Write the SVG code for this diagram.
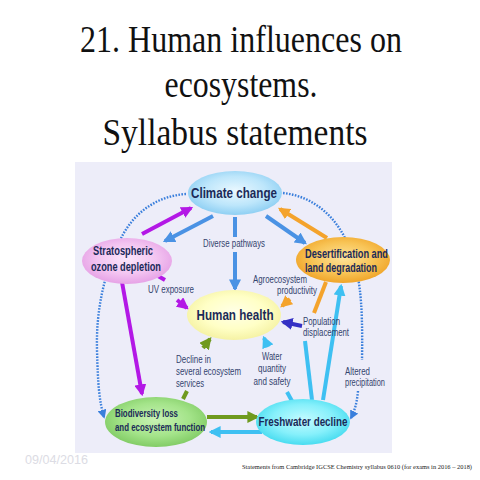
<svg xmlns="http://www.w3.org/2000/svg" width="480" height="480" viewBox="0 0 480 480">
<defs>
<style>
.title{font-family:"Liberation Serif","Times New Roman",serif;font-size:37px;fill:#111;text-anchor:middle}
.nl{font-family:"Liberation Sans",Arial,sans-serif;font-weight:bold;fill:#1b2a58}
.el{font-family:"Liberation Sans",Arial,sans-serif;font-size:10px;fill:#34446e}
.ar{fill:none;stroke-width:4;stroke-linecap:butt}
.dot{fill:none;stroke:#3a7fdc;stroke-width:2.4;stroke-dasharray:1.6 1.4}
</style>
<marker id="mBlue" viewBox="0 0 10 10" refX="8" refY="5" markerWidth="12" markerHeight="12" markerUnits="userSpaceOnUse" orient="auto"><path d="M0,0 L10,5 L0,10 z" fill="#4a92e4"/></marker>
<marker id="mMag" viewBox="0 0 10 10" refX="8" refY="5" markerWidth="12" markerHeight="12" markerUnits="userSpaceOnUse" orient="auto"><path d="M0,0 L10,5 L0,10 z" fill="#b318e6"/></marker>
<marker id="mOr" viewBox="0 0 10 10" refX="8" refY="5" markerWidth="12" markerHeight="12" markerUnits="userSpaceOnUse" orient="auto"><path d="M0,0 L10,5 L0,10 z" fill="#f4a32c"/></marker>
<marker id="mCy" viewBox="0 0 10 10" refX="8" refY="5" markerWidth="12" markerHeight="12" markerUnits="userSpaceOnUse" orient="auto"><path d="M0,0 L10,5 L0,10 z" fill="#3ec0f2"/></marker>
<marker id="mOl" viewBox="0 0 10 10" refX="8" refY="5" markerWidth="12" markerHeight="12" markerUnits="userSpaceOnUse" orient="auto"><path d="M0,0 L10,5 L0,10 z" fill="#6f9a1e"/></marker>
<marker id="mInd" viewBox="0 0 10 10" refX="8" refY="5" markerWidth="12" markerHeight="12" markerUnits="userSpaceOnUse" orient="auto"><path d="M0,0 L10,5 L0,10 z" fill="#3430c4"/></marker>
<marker id="mDot" viewBox="0 0 10 10" refX="8" refY="5" markerWidth="9" markerHeight="9" markerUnits="userSpaceOnUse" orient="auto"><path d="M0,0 L10,5 L0,10 z" fill="#3a7fdc"/></marker>
<radialGradient id="gCl" cx="50%" cy="45%" r="55%"><stop offset="0" stop-color="#eaf8ff"/><stop offset="0.6" stop-color="#bde6fb"/><stop offset="1" stop-color="#8ecff3"/></radialGradient>
<radialGradient id="gOz" cx="50%" cy="45%" r="55%"><stop offset="0" stop-color="#fbe6fb"/><stop offset="0.6" stop-color="#f3c4f1"/><stop offset="1" stop-color="#e6a2e6"/></radialGradient>
<radialGradient id="gDe" cx="50%" cy="45%" r="55%"><stop offset="0" stop-color="#fde39a"/><stop offset="0.6" stop-color="#f8c456"/><stop offset="1" stop-color="#f0a52a"/></radialGradient>
<radialGradient id="gHu" cx="50%" cy="45%" r="55%"><stop offset="0" stop-color="#ffffe8"/><stop offset="0.6" stop-color="#ffffc6"/><stop offset="1" stop-color="#f5f2a4"/></radialGradient>
<radialGradient id="gBi" cx="50%" cy="45%" r="55%"><stop offset="0" stop-color="#c8f2b4"/><stop offset="0.6" stop-color="#a4e48a"/><stop offset="1" stop-color="#82cc66"/></radialGradient>
<radialGradient id="gFr" cx="50%" cy="45%" r="55%"><stop offset="0" stop-color="#c4fbff"/><stop offset="0.6" stop-color="#86f0fb"/><stop offset="1" stop-color="#48dcf0"/></radialGradient>
</defs>
<rect width="480" height="480" fill="#ffffff"/>
<text class="title" x="241" y="52" textLength="322" lengthAdjust="spacingAndGlyphs">21. Human influences on</text>
<text class="title" x="241" y="97" textLength="153" lengthAdjust="spacingAndGlyphs">ecosystems.</text>
<text class="title" x="235" y="145" textLength="265" lengthAdjust="spacingAndGlyphs">Syllabus statements</text>
<rect id="panel" x="75" y="162" width="317" height="291" fill="#ededf9"/>
<g id="connectors">
<path class="dot" d="M186,194 C155,196 130,215 118,245 C104,275 96,310 97,350 C98,385 99,400 104,417" marker-end="url(#mDot)"/>
<path class="dot" d="M283,193 C312,196 334,215 346,240 C360,268 363,300 362,360"/>
<path class="dot" d="M358,391 C357,402 355,410 351,418" marker-end="url(#mDot)"/>
<line class="ar" stroke="#4a92e4" x1="213" y1="216" x2="165" y2="241" marker-end="url(#mBlue)"/>
<line class="ar" stroke="#b318e6" x1="142" y1="234" x2="191" y2="208" marker-end="url(#mMag)"/>
<line class="ar" stroke="#4a92e4" x1="235" y1="217" x2="235" y2="237"/>
<line class="ar" stroke="#4a92e4" x1="235" y1="252" x2="235" y2="289" marker-end="url(#mBlue)"/>
<line class="ar" stroke="#4a92e4" x1="266" y1="216" x2="305" y2="243" marker-end="url(#mBlue)"/>
<line class="ar" stroke="#f4a32c" x1="327" y1="238" x2="280" y2="209" marker-end="url(#mOr)"/>
<line class="ar" stroke="#b318e6" x1="122" y1="282" x2="142" y2="394" marker-end="url(#mMag)"/>
<line class="ar" stroke="#b318e6" x1="158" y1="276" x2="165" y2="280"/>
<line class="ar" stroke="#b318e6" x1="177" y1="300" x2="187" y2="308" marker-end="url(#mMag)"/>
<line class="ar" stroke="#f4a32c" x1="290" y1="299" x2="282" y2="306" marker-end="url(#mOr)"/>
<line class="ar" stroke="#f4a32c" x1="326" y1="282" x2="314" y2="313"/>
<line class="ar" stroke="#3430c4" x1="302" y1="326" x2="283" y2="322" marker-end="url(#mInd)"/>
<line class="ar" stroke="#3ec0f2" x1="323" y1="400" x2="341" y2="286" marker-end="url(#mCy)"/>
<line class="ar" stroke="#3ec0f2" x1="312" y1="400" x2="305" y2="341"/>
<line class="ar" stroke="#3ec0f2" x1="287" y1="392" x2="292" y2="401"/>
<line class="ar" stroke="#3ec0f2" x1="268" y1="347" x2="264" y2="338" marker-end="url(#mCy)"/>
<line class="ar" stroke="#6f9a1e" x1="183" y1="399" x2="187" y2="391"/>
<line class="ar" stroke="#6f9a1e" x1="203" y1="348" x2="210" y2="339" marker-end="url(#mOl)"/>
<line class="ar" stroke="#6f9a1e" x1="207" y1="417" x2="257" y2="417" marker-end="url(#mOl)"/>
<line class="ar" stroke="#3ec0f2" x1="262" y1="432" x2="211" y2="432" marker-end="url(#mCy)"/>
<text class="el" x="234" y="247" text-anchor="middle" textLength="62" lengthAdjust="spacingAndGlyphs">Diverse pathways</text>
<text class="el" x="148" y="293" textLength="46" lengthAdjust="spacingAndGlyphs">UV exposure</text>
<text class="el" x="253" y="283" textLength="54" lengthAdjust="spacingAndGlyphs">Agroecosystem</text>
<text class="el" x="277" y="294" textLength="40" lengthAdjust="spacingAndGlyphs">productivity</text>
<text class="el" x="303" y="325" textLength="37" lengthAdjust="spacingAndGlyphs">Population</text>
<text class="el" x="303" y="336" textLength="46" lengthAdjust="spacingAndGlyphs">displacement</text>
<text class="el" x="272" y="360" text-anchor="middle" textLength="20" lengthAdjust="spacingAndGlyphs">Water</text>
<text class="el" x="272" y="372" text-anchor="middle" textLength="28" lengthAdjust="spacingAndGlyphs">quantity</text>
<text class="el" x="272" y="385" text-anchor="middle" textLength="37" lengthAdjust="spacingAndGlyphs">and safety</text>
<text class="el" x="176" y="363" textLength="35" lengthAdjust="spacingAndGlyphs">Decline in</text>
<text class="el" x="176" y="375" textLength="65" lengthAdjust="spacingAndGlyphs">several ecosystem</text>
<text class="el" x="176" y="387" textLength="28" lengthAdjust="spacingAndGlyphs">services</text>
<text class="el" x="345" y="375" textLength="25" lengthAdjust="spacingAndGlyphs">Altered</text>
<text class="el" x="345" y="386" textLength="40" lengthAdjust="spacingAndGlyphs">precipitation</text>
</g>
<g id="climate">
<ellipse cx="235" cy="193" rx="47" ry="22" fill="url(#gCl)"/>
<text class="nl" x="234" y="198" font-size="15" text-anchor="middle" textLength="86" lengthAdjust="spacingAndGlyphs">Climate change</text>
</g>
<g id="ozone">
<ellipse cx="127" cy="261" rx="45" ry="23" fill="url(#gOz)"/>
<text class="nl" x="123" y="255" font-size="12" text-anchor="middle" textLength="60" lengthAdjust="spacingAndGlyphs">Stratospheric</text>
<text class="nl" x="126" y="271" font-size="12" text-anchor="middle" textLength="70" lengthAdjust="spacingAndGlyphs">ozone depletion</text>
</g>
<g id="desert">
<ellipse cx="343" cy="260" rx="47" ry="23" fill="url(#gDe)"/>
<text class="nl" x="305" y="258" font-size="12" textLength="83" lengthAdjust="spacingAndGlyphs" fill="#3a2e4a">Desertification and</text>
<text class="nl" x="305" y="272" font-size="12" textLength="72" lengthAdjust="spacingAndGlyphs" fill="#3a2e4a">land degradation</text>
</g>
<g id="health">
<ellipse cx="234" cy="315" rx="47" ry="25" fill="url(#gHu)"/>
<text class="nl" x="235" y="320" font-size="15" text-anchor="middle" textLength="77" lengthAdjust="spacingAndGlyphs">Human health</text>
</g>
<g id="biodiversity">
<ellipse cx="156" cy="422" rx="51" ry="25" fill="url(#gBi)"/>
<text class="nl" x="115" y="417" font-size="11" textLength="63" lengthAdjust="spacingAndGlyphs">Biodiversity loss</text>
<text class="nl" x="115" y="431" font-size="11" textLength="90" lengthAdjust="spacingAndGlyphs">and ecosystem function</text>
</g>
<g id="freshwater">
<ellipse cx="303" cy="422" rx="47" ry="23" fill="url(#gFr)"/>
<text class="nl" x="303" y="426" font-size="13" text-anchor="middle" textLength="89" lengthAdjust="spacingAndGlyphs">Freshwater decline</text>
</g>
<text x="25" y="464" font-family="Liberation Sans, Arial, sans-serif" font-size="13" fill="#dcdce4" textLength="63" lengthAdjust="spacingAndGlyphs">09/04/2016</text>
<text x="242" y="469" font-family="Liberation Serif, Times New Roman, serif" font-size="6.3" fill="#222" textLength="230" lengthAdjust="spacingAndGlyphs">Statements from Cambridge IGCSE Chemistry syllabus 0610 (for exams in 2016 – 2018)</text>
</svg>
